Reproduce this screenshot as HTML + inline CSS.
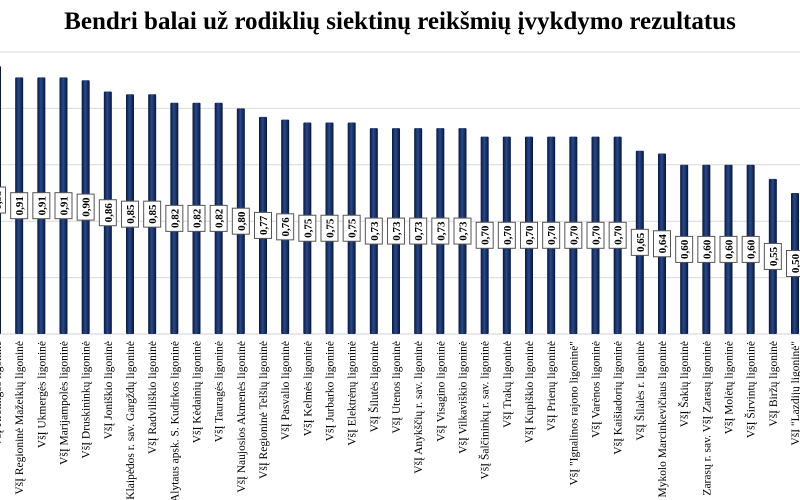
<!DOCTYPE html>
<html><head><meta charset="utf-8"><style>
html,body{margin:0;padding:0;background:#fff;}
svg{display:block;}
</style></head><body>
<svg id="chart" width="800" height="500" viewBox="0 0 800 500" xmlns="http://www.w3.org/2000/svg">
<defs>
<linearGradient id="bg" x1="0" x2="1" y1="0" y2="0">
<stop offset="0" stop-color="#08183f"/><stop offset="0.45" stop-color="#26498f"/><stop offset="1" stop-color="#071537"/>
</linearGradient>
</defs>
<text x="400" y="29" text-anchor="middle" font-family="Liberation Serif, serif" font-weight="bold" font-size="25" fill="#000">Bendri balai už rodiklių siektinų reikšmių įvykdymo rezultatus</text>
<g id="grid"></g>
<g id="bars"></g>
<g id="vlabels"></g>
<g id="xlabels"></g>
</svg>
<script>
const categories = ["VšĮ Kretingos ligoninė","VšĮ Regioninė Mažeikių ligoninė","VšĮ Ukmergės ligoninė","VšĮ Marijampolės ligoninė","VšĮ Druskininkų ligoninė","VšĮ Joniškio ligoninė","Klaipėdos r. sav. Gargždų ligoninė","VšĮ Radviliškio ligoninė","VšĮ Alytaus apsk. S. Kudirkos ligoninė","VšĮ Kėdainių ligoninė","VšĮ Tauragės ligoninė","VšĮ Naujosios Akmenės ligoninė","VšĮ Regioninė Telšių ligoninė","VšĮ Pasvalio ligoninė","VšĮ Kelmės ligoninė","VšĮ Jurbarko ligoninė","VšĮ Elektrėnų ligoninė","VšĮ Šilutės ligoninė","VšĮ Utenos ligoninė","VšĮ Anykščių r. sav. ligoninė","VšĮ Visagino ligoninė","VšĮ Vilkaviškio ligoninė","VšĮ Šalčininkų r. sav. ligoninė","VšĮ Trakų ligoninė","VšĮ Kupiškio ligoninė","VšĮ Prienų ligoninė","VšĮ \"Ignalinos rajono ligoninė\"","VšĮ Varėnos ligoninė","VšĮ Kaišiadorių ligoninė","VšĮ Šilalės r. ligoninė","VšĮ Mykolo Marcinkevičiaus ligoninė","VšĮ Šakių ligoninė","Zarasų r. sav. VšĮ Zarasų ligoninė","VšĮ Molėtų ligoninė","VšĮ Širvintų ligoninė","VšĮ Biržų ligoninė","VšĮ \"Lazdijų ligoninė\""];
const values = [0.95,0.91,0.91,0.91,0.90,0.86,0.85,0.85,0.82,0.82,0.82,0.80,0.77,0.76,0.75,0.75,0.75,0.73,0.73,0.73,0.73,0.73,0.70,0.70,0.70,0.70,0.70,0.70,0.70,0.65,0.64,0.60,0.60,0.60,0.60,0.55,0.50];
const gridTicks = [0.2,0.4,0.6,0.8,1.0];

const NS = "http://www.w3.org/2000/svg";
const baseY = 334, scaleY = 282;
const x0 = -3, step = (795 - x0) / (categories.length - 1);
function xPos(i){ return x0 + i * step; }
function yPos(v){ return baseY - v * scaleY; }
function mk(tag, attrs, parent){ const e=document.createElementNS(NS,tag); for(const k in attrs) e.setAttribute(k,attrs[k]); parent.appendChild(e); return e; }

const grid = document.getElementById('grid');
gridTicks.forEach(t=>{
  const l = mk('line',{x1:0,x2:800,y1:yPos(t),y2:yPos(t),stroke:'#d9d9d9','stroke-width':1},grid);
  
  
});
const ax = mk('line',{x1:0,x2:800,y1:baseY,y2:baseY,stroke:'#d0d0d0','stroke-width':1},grid);



const bars = document.getElementById('bars');
const vl = document.getElementById('vlabels');
const xl = document.getElementById('xlabels');
values.forEach((v,i)=>{
  const x = xPos(i), y = yPos(v);
  const r = mk('rect',{x:x-4,y:y,width:8,height:baseY-y,fill:'url(#bg)',rx:1},bars);
  
  
  const my = (y + baseY)/2;
  const g = mk('g',{transform:`translate(${x},${my}) rotate(-90)`},vl);
  
  
  mk('rect',{x:-13,y:-8.5,width:26,height:17,fill:'#fff',stroke:'#555','stroke-width':1},g);
  const t = mk('text',{x:0,y:4,'text-anchor':'middle','font-family':'Liberation Serif, serif','font-weight':'bold','font-size':'11',fill:'#000'},g);
  t.textContent = v.toFixed(2).replace('.',',');
  const ct = mk('text',{transform:`translate(${x+4},341) rotate(-90)`,'text-anchor':'end','font-family':'Liberation Serif, serif','font-size':'11.5',fill:'#000'},xl);
  
  
  ct.textContent = categories[i];
});
</script>
</body></html>
